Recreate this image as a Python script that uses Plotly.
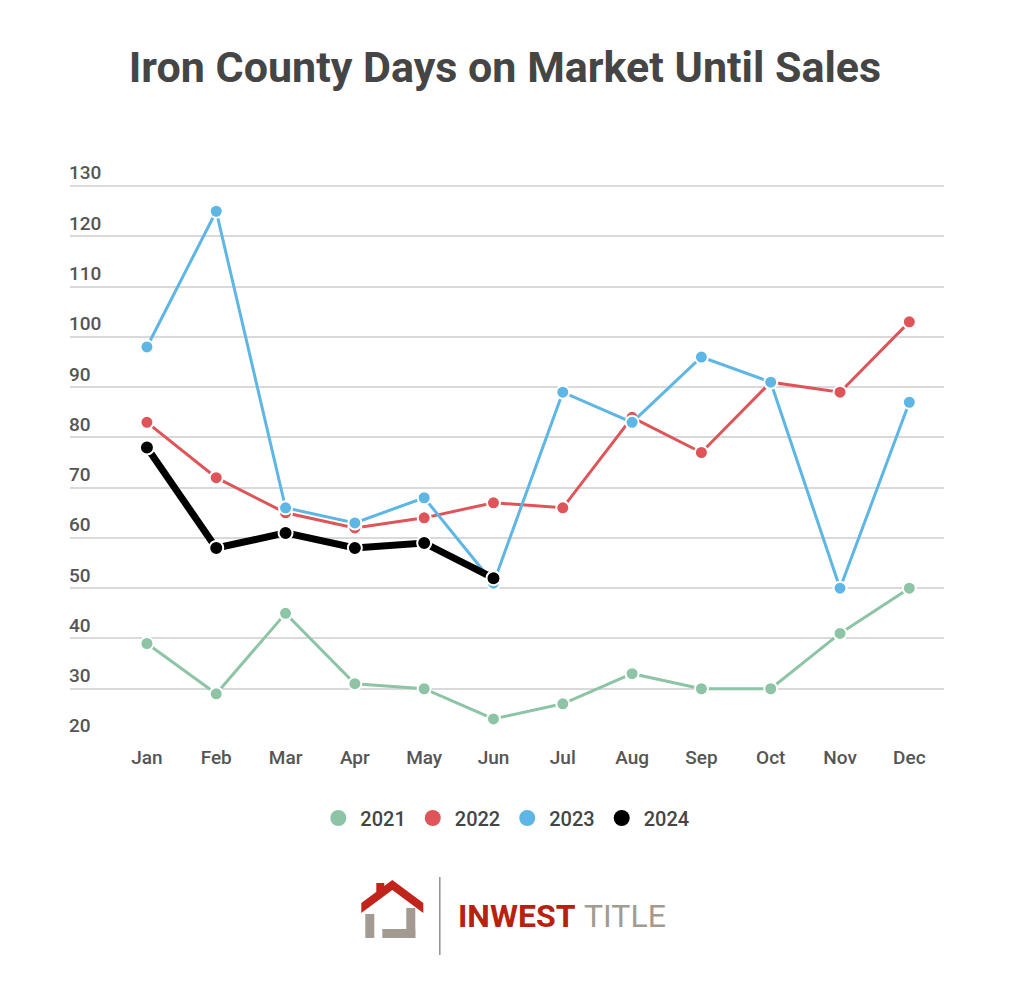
import plotly.graph_objects as go

months = ["Jan", "Feb", "Mar", "Apr", "May", "Jun", "Jul", "Aug", "Sep", "Oct", "Nov", "Dec"]
y2021 = [39, 29, 45, 31, 30, 24, 27, 33, 30, 30, 41, 50]
y2022 = [83, 72, 65, 62, 64, 67, 66, 84, 77, 91, 89, 103]
y2023 = [98, 125, 66, 63, 68, 51, 89, 83, 96, 91, 50, 87]
y2024 = [78, 58, 61, 58, 59, 52]
tick_vals = [20, 30, 40, 50, 60, 70, 80, 90, 100, 110, 120, 130]

series = [
    ("2021", y2021, "#8EC4A6", 3, 13),
    ("2022", y2022, "#DE5458", 3, 13),
    ("2023", y2023, "#5EB6E4", 3, 13),
    ("2024", y2024, "#000000", 7, 14),
]

W, H = 1032, 996
UNIT = (739 - 186) / 110.0  # px per value unit
YMIN, YMAX = 20, 135
L, R = 69.7, 88.3
B = H - 739
T = 186 - (YMAX - 130) * UNIT

fig = go.Figure()
for name, vals, col, lw, ms in series:
    fig.add_trace(go.Scatter(
        x=months[:len(vals)], y=vals, mode="lines+markers", name=name,
        line=dict(color=col, width=lw),
        marker=dict(color=col, size=ms, line=dict(color="white", width=2)),
        showlegend=False, hoverinfo="x+y+name",
    ))
for name, vals, col, lw, ms in series:
    fig.add_trace(go.Scatter(
        x=[None], y=[None], mode="markers", name=name,
        marker=dict(color=col, size=22), showlegend=True,
    ))

pw, ph = W - L - R, H - T - B


def px(x):
    return (x - L) / pw


def py(y):
    return (H - B - y) / ph


shapes = []
red = "#C0241A"
wall = "#A39A92"
# roof
roof = [(361, 903), (392, 880), (423, 903), (423, 913), (392, 890), (361, 913)]
path = "M " + " L ".join(f"{px(a):.5f},{py(b):.5f}" for a, b in roof) + " Z"
shapes.append(dict(type="path", xref="paper", yref="paper", path=path,
                   fillcolor=red, line=dict(width=0)))
# chimney
shapes.append(dict(type="rect", xref="paper", yref="paper",
                   x0=px(376), x1=px(384), y0=py(883), y1=py(894),
                   fillcolor=red, line=dict(width=0)))
# walls
shapes.append(dict(type="rect", xref="paper", yref="paper",
                   x0=px(365), x1=px(374), y0=py(914), y1=py(938),
                   fillcolor=wall, line=dict(width=0)))
shapes.append(dict(type="rect", xref="paper", yref="paper",
                   x0=px(406), x1=px(415), y0=py(908), y1=py(938),
                   fillcolor=wall, line=dict(width=0)))
shapes.append(dict(type="rect", xref="paper", yref="paper",
                   x0=px(382), x1=px(415), y0=py(929), y1=py(938),
                   fillcolor=wall, line=dict(width=0)))
# divider
shapes.append(dict(type="line", xref="paper", yref="paper",
                   x0=px(439.5), x1=px(439.5), y0=py(877), y1=py(955),
                   line=dict(color="#8F8F8F", width=1.5)))

annotations = [
    dict(xref="paper", yref="paper", x=px(456), y=py(916), xanchor="left", yanchor="middle",
         text="<b>INWEST</b>", showarrow=False,
         font=dict(family="Roboto", size=32, color="#B8200F")),
    dict(xref="paper", yref="paper", x=px(582), y=py(916), xanchor="left", yanchor="middle",
         text="TITLE", showarrow=False,
         font=dict(family="Roboto", size=32, color=wall)),
]

tickfont = dict(family="Roboto", size=19, color="#555555", weight=500)

fig.update_layout(
    width=W, height=H,
    margin=dict(l=L, r=R, t=T, b=B, autoexpand=False),
    paper_bgcolor="white", plot_bgcolor="white",
    title=dict(text="<b>Iron County Days on Market Until Sales</b>",
               x=505 / W, xref="container", xanchor="center",
               y=1 - 67 / H, yref="container", yanchor="middle",
               font=dict(family="Roboto", size=43, color="#454545")),
    xaxis=dict(type="category", range=[-1.11, 11.5], showgrid=False, zeroline=False,
               showline=False, ticks="", tickfont=tickfont, ticklabelstandoff=5,
               fixedrange=True),
    yaxis=dict(range=[YMIN, YMAX], tickvals=tick_vals, showgrid=True, gridcolor="#D9D9D9",
               gridwidth=1.5, zeroline=False, showline=False, ticks="",
               ticklabelposition="inside top", ticklabelstandoff=-4,
               tickfont=tickfont, fixedrange=True),
    legend=dict(orientation="h", x=px(505), xanchor="center", y=py(818), yanchor="middle",
                font=dict(family="Roboto", size=20, color="#454545", weight=500),
                itemsizing="trace", itemwidth=34),
    shapes=shapes, annotations=annotations,
    showlegend=True,
)

fig.write_html("out.html")
